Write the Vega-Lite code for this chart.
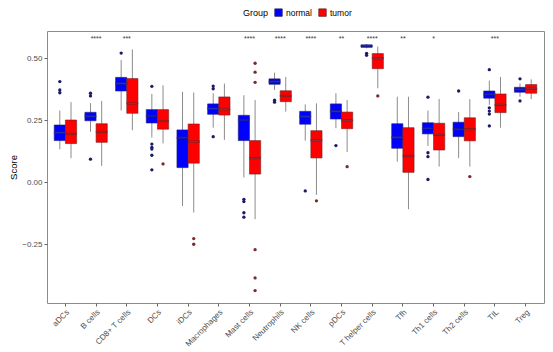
{
  "$schema": "https://vega.github.io/schema/vega-lite/v6.json",
  "autosize": "none",
  "width": 497,
  "height": 272,
  "padding": {"left": 47, "top": 31, "right": 9, "bottom": 49},
  "background": "white",
  "config": {
    "font": "Liberation Sans",
    "view": {"stroke": "#8c8c8c", "strokeWidth": 1},
    "axis": {"grid": false, "domain": false, "labelColor": "#4d4d4d", "labelFontSize": 8, "tickColor": "#666666", "tickSize": 3, "titleFontWeight": "normal", "titleFontSize": 9.5, "titleColor": "#000000"},
    "legend": {"titleFontWeight": "normal", "titleFontSize": 9, "labelFontSize": 8.5, "labelColor": "#000000", "titleColor": "#000000"}
  },
  "datasets": {
    "boxes": [
      {"cell": "aDCs", "group": "normal", "lower": 0.133, "q1": 0.168, "median": 0.200, "q3": 0.231, "upper": 0.289},
      {"cell": "aDCs", "group": "tumor", "lower": 0.097, "q1": 0.156, "median": 0.195, "q3": 0.251, "upper": 0.323},
      {"cell": "B cells", "group": "normal", "lower": 0.204, "q1": 0.248, "median": 0.266, "q3": 0.282, "upper": 0.319},
      {"cell": "B cells", "group": "tumor", "lower": 0.066, "q1": 0.161, "median": 0.203, "q3": 0.236, "upper": 0.328},
      {"cell": "CD8+ T cells", "group": "normal", "lower": 0.289, "q1": 0.368, "median": 0.398, "q3": 0.423, "upper": 0.493},
      {"cell": "CD8+ T cells", "group": "tumor", "lower": 0.210, "q1": 0.278, "median": 0.318, "q3": 0.418, "upper": 0.536},
      {"cell": "DCs", "group": "normal", "lower": 0.180, "q1": 0.239, "median": 0.267, "q3": 0.293, "upper": 0.356},
      {"cell": "DCs", "group": "tumor", "lower": 0.157, "q1": 0.214, "median": 0.247, "q3": 0.293, "upper": 0.391},
      {"cell": "iDCs", "group": "normal", "lower": -0.096, "q1": 0.059, "median": 0.179, "q3": 0.211, "upper": 0.365},
      {"cell": "iDCs", "group": "tumor", "lower": -0.122, "q1": 0.077, "median": 0.164, "q3": 0.235, "upper": 0.362},
      {"cell": "Macrophages", "group": "normal", "lower": 0.220, "q1": 0.274, "median": 0.297, "q3": 0.316, "upper": 0.359},
      {"cell": "Macrophages", "group": "tumor", "lower": 0.171, "q1": 0.271, "median": 0.294, "q3": 0.344, "upper": 0.398},
      {"cell": "Mast cells", "group": "normal", "lower": 0.019, "q1": 0.168, "median": 0.251, "q3": 0.270, "upper": 0.351},
      {"cell": "Mast cells", "group": "tumor", "lower": -0.149, "q1": 0.033, "median": 0.097, "q3": 0.168, "upper": 0.332},
      {"cell": "Neutrophils", "group": "normal", "lower": 0.372, "q1": 0.395, "median": 0.406, "q3": 0.417, "upper": 0.442},
      {"cell": "Neutrophils", "group": "tumor", "lower": 0.285, "q1": 0.325, "median": 0.348, "q3": 0.369, "upper": 0.425},
      {"cell": "NK cells", "group": "normal", "lower": 0.168, "q1": 0.234, "median": 0.265, "q3": 0.286, "upper": 0.314},
      {"cell": "NK cells", "group": "tumor", "lower": -0.051, "q1": 0.098, "median": 0.169, "q3": 0.208, "upper": 0.318},
      {"cell": "pDCs", "group": "normal", "lower": 0.218, "q1": 0.255, "median": 0.286, "q3": 0.316, "upper": 0.359},
      {"cell": "pDCs", "group": "tumor", "lower": 0.122, "q1": 0.216, "median": 0.250, "q3": 0.283, "upper": 0.332},
      {"cell": "T helper cells", "group": "normal", "lower": 0.540, "q1": 0.544, "median": 0.550, "q3": 0.554, "upper": 0.558},
      {"cell": "T helper cells", "group": "tumor", "lower": 0.379, "q1": 0.458, "median": 0.500, "q3": 0.519, "upper": 0.547},
      {"cell": "Tfh", "group": "normal", "lower": 0.083, "q1": 0.137, "median": 0.181, "q3": 0.236, "upper": 0.345},
      {"cell": "Tfh", "group": "tumor", "lower": -0.109, "q1": 0.040, "median": 0.106, "q3": 0.220, "upper": 0.345},
      {"cell": "Th1 cells", "group": "normal", "lower": 0.146, "q1": 0.195, "median": 0.218, "q3": 0.240, "upper": 0.289},
      {"cell": "Th1 cells", "group": "tumor", "lower": 0.063, "q1": 0.130, "median": 0.191, "q3": 0.238, "upper": 0.336},
      {"cell": "Th2 cells", "group": "normal", "lower": 0.097, "q1": 0.184, "median": 0.214, "q3": 0.242, "upper": 0.283},
      {"cell": "Th2 cells", "group": "tumor", "lower": 0.063, "q1": 0.167, "median": 0.214, "q3": 0.260, "upper": 0.335},
      {"cell": "TIL", "group": "normal", "lower": 0.312, "q1": 0.339, "median": 0.355, "q3": 0.368, "upper": 0.410},
      {"cell": "TIL", "group": "tumor", "lower": 0.220, "q1": 0.281, "median": 0.312, "q3": 0.356, "upper": 0.425},
      {"cell": "Treg", "group": "normal", "lower": 0.345, "q1": 0.363, "median": 0.375, "q3": 0.383, "upper": 0.399},
      {"cell": "Treg", "group": "tumor", "lower": 0.335, "q1": 0.359, "median": 0.377, "q3": 0.394, "upper": 0.415}
    ],
    "outliers": [
      {"cell": "aDCs", "group": "normal", "value": 0.406},
      {"cell": "aDCs", "group": "normal", "value": 0.372},
      {"cell": "aDCs", "group": "normal", "value": 0.361},
      {"cell": "B cells", "group": "normal", "value": 0.359},
      {"cell": "B cells", "group": "normal", "value": 0.348},
      {"cell": "B cells", "group": "normal", "value": 0.093},
      {"cell": "CD8+ T cells", "group": "normal", "value": 0.521},
      {"cell": "DCs", "group": "normal", "value": 0.387},
      {"cell": "DCs", "group": "normal", "value": 0.154},
      {"cell": "DCs", "group": "normal", "value": 0.141},
      {"cell": "DCs", "group": "normal", "value": 0.134},
      {"cell": "DCs", "group": "normal", "value": 0.109},
      {"cell": "DCs", "group": "normal", "value": 0.050},
      {"cell": "DCs", "group": "tumor", "value": 0.074},
      {"cell": "iDCs", "group": "tumor", "value": -0.227},
      {"cell": "iDCs", "group": "tumor", "value": -0.250},
      {"cell": "Macrophages", "group": "normal", "value": 0.388},
      {"cell": "Macrophages", "group": "normal", "value": 0.377},
      {"cell": "Macrophages", "group": "normal", "value": 0.184},
      {"cell": "Mast cells", "group": "normal", "value": -0.069},
      {"cell": "Mast cells", "group": "normal", "value": -0.078},
      {"cell": "Mast cells", "group": "normal", "value": -0.123},
      {"cell": "Mast cells", "group": "normal", "value": -0.141},
      {"cell": "Mast cells", "group": "tumor", "value": 0.480},
      {"cell": "Mast cells", "group": "tumor", "value": 0.444},
      {"cell": "Mast cells", "group": "tumor", "value": 0.403},
      {"cell": "Mast cells", "group": "tumor", "value": -0.272},
      {"cell": "Mast cells", "group": "tumor", "value": -0.386},
      {"cell": "Mast cells", "group": "tumor", "value": -0.437},
      {"cell": "Neutrophils", "group": "normal", "value": 0.331},
      {"cell": "Neutrophils", "group": "normal", "value": 0.323},
      {"cell": "NK cells", "group": "normal", "value": -0.035},
      {"cell": "NK cells", "group": "tumor", "value": -0.075},
      {"cell": "pDCs", "group": "normal", "value": 0.148},
      {"cell": "pDCs", "group": "tumor", "value": 0.063},
      {"cell": "T helper cells", "group": "normal", "value": 0.520},
      {"cell": "T helper cells", "group": "normal", "value": 0.512},
      {"cell": "T helper cells", "group": "tumor", "value": 0.348},
      {"cell": "Th1 cells", "group": "normal", "value": 0.343},
      {"cell": "Th1 cells", "group": "normal", "value": 0.119},
      {"cell": "Th1 cells", "group": "normal", "value": 0.103},
      {"cell": "Th1 cells", "group": "normal", "value": 0.011},
      {"cell": "Th2 cells", "group": "normal", "value": 0.368},
      {"cell": "Th2 cells", "group": "tumor", "value": 0.023},
      {"cell": "TIL", "group": "normal", "value": 0.454},
      {"cell": "TIL", "group": "normal", "value": 0.300},
      {"cell": "TIL", "group": "normal", "value": 0.287},
      {"cell": "TIL", "group": "normal", "value": 0.275},
      {"cell": "TIL", "group": "normal", "value": 0.227},
      {"cell": "Treg", "group": "normal", "value": 0.417},
      {"cell": "Treg", "group": "normal", "value": 0.328}
    ],
    "sig": [
      {"cell": "B cells", "label": "****"},
      {"cell": "CD8+ T cells", "label": "***"},
      {"cell": "Mast cells", "label": "****"},
      {"cell": "Neutrophils", "label": "****"},
      {"cell": "NK cells", "label": "****"},
      {"cell": "pDCs", "label": "**"},
      {"cell": "T helper cells", "label": "****"},
      {"cell": "Tfh", "label": "**"},
      {"cell": "Th1 cells", "label": "*"},
      {"cell": "TIL", "label": "***"}
    ]
  },
  "encoding": {
    "x": {
      "field": "cell", "type": "nominal",
      "scale": {"domain": ["aDCs", "B cells", "CD8+ T cells", "DCs", "iDCs", "Macrophages", "Mast cells", "Neutrophils", "NK cells", "pDCs", "T helper cells", "Tfh", "Th1 cells", "Th2 cells", "TIL", "Treg"], "paddingInner": 0, "paddingOuter": 0.1},
      "axis": {"title": null, "labelAngle": -45, "labelAlign": "right", "labelBaseline": "top", "labelPadding": 2}
    }
  },
  "layer": [
    {
      "data": {"name": "boxes"},
      "mark": {"type": "rule", "color": "#8c8c8c", "strokeWidth": 1},
      "encoding": {
        "xOffset": {"field": "group", "type": "nominal", "scale": {"domain": ["normal", "tumor"], "paddingInner": 0, "paddingOuter": 0.37}},
        "y": {"field": "lower", "type": "quantitative", "scale": {"domain": [-0.487, 0.61], "nice": false, "zero": false}, "axis": {"title": "Score", "values": [-0.25, 0, 0.25, 0.5], "format": ".2f", "titlePadding": 3}},
        "y2": {"field": "upper"}
      }
    },
    {
      "data": {"name": "boxes"},
      "mark": {"type": "bar", "strokeWidth": 0.6},
      "encoding": {
        "xOffset": {"field": "group", "type": "nominal"},
        "y": {"field": "q1", "type": "quantitative"},
        "y2": {"field": "q3"},
        "fill": {"field": "group", "type": "nominal", "scale": {"domain": ["normal", "tumor"], "range": ["#0000ff", "#ff0000"]},
          "legend": {"title": "Group", "orient": "none", "legendX": 196, "legendY": -23, "direction": "horizontal", "titleOrient": "left", "symbolType": "square", "symbolSize": 55, "symbolStrokeWidth": 0.8, "columnPadding": 5, "labelOffset": 3, "titlePadding": 5}},
        "stroke": {"field": "group", "type": "nominal", "scale": {"domain": ["normal", "tumor"], "range": ["#22226e", "#6e2222"]}, "legend": null}
      }
    },
    {
      "data": {"name": "boxes"},
      "mark": {"type": "tick", "thickness": 1.3, "size": 11},
      "encoding": {
        "xOffset": {"field": "group", "type": "nominal"},
        "y": {"field": "median", "type": "quantitative"},
        "stroke": {"field": "group", "type": "nominal", "legend": null}
      }
    },
    {
      "data": {"name": "outliers"},
      "mark": {"type": "circle", "size": 11, "opacity": 1},
      "encoding": {
        "xOffset": {"field": "group", "type": "nominal"},
        "y": {"field": "value", "type": "quantitative"},
        "color": {"field": "group", "type": "nominal", "scale": {"domain": ["normal", "tumor"], "range": ["#1a1a66", "#7a2a2a"]}, "legend": null}
      }
    },
    {
      "data": {"name": "sig"},
      "mark": {"type": "text", "fontSize": 7, "color": "#333333", "baseline": "middle"},
      "encoding": {
        "y": {"datum": 0.577},
        "text": {"field": "label"}
      }
    }
  ]
}
